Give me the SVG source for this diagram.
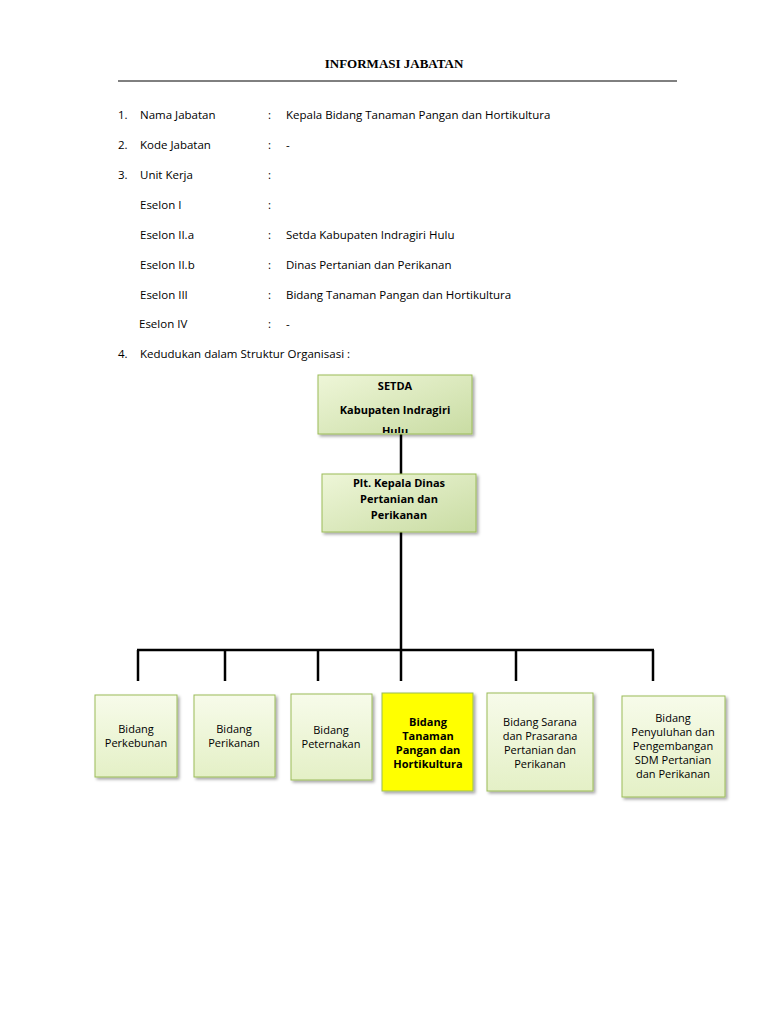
<svg xmlns="http://www.w3.org/2000/svg" width="768" height="1024" viewBox="0 0 768 1024">
<style>
.t{font-family:"Open Sans","Liberation Sans",sans-serif;font-size:11.5px;fill:#000}
.n{font-family:"Open Sans","Liberation Sans",sans-serif;font-size:11px;fill:#000;text-anchor:middle}
.b{font-weight:bold}
.box{stroke:#9bbb59;stroke-width:1;filter:url(#sh)}
.ln{stroke:#000;stroke-width:2.5;fill:none}
</style>
<defs>
<linearGradient id="g" x1="0" y1="0" x2="1" y2="1"><stop offset="0" stop-color="#eef6d8"/><stop offset="1" stop-color="#c9dca3"/></linearGradient>
<linearGradient id="g2" x1="0" y1="0" x2="0" y2="1"><stop offset="0" stop-color="#f7fbea"/><stop offset="1" stop-color="#e4f0c6"/></linearGradient>
<filter id="sh" x="-10%" y="-10%" width="130%" height="130%"><feDropShadow dx="2" dy="2" stdDeviation="1.5" flood-color="#000" flood-opacity="0.35"/></filter>
<clipPath id="c1"><rect x="318" y="375" width="154" height="58"/></clipPath>
</defs>
<rect width="768" height="1024" fill="#fff"/>
<text x="394" y="68" text-anchor="middle" font-family="Liberation Serif,serif" font-weight="bold" font-size="13">INFORMASI JABATAN</text>
<line x1="118" y1="81" x2="677" y2="81" stroke="#000" stroke-width="1"/>
<g class="t">
<text x="118" y="119">1.</text><text x="140" y="119">Nama Jabatan</text><text x="268" y="119">:</text><text x="286" y="119">Kepala Bidang Tanaman Pangan dan Hortikultura</text>
<text x="118" y="149">2.</text><text x="140" y="149">Kode Jabatan</text><text x="268" y="149">:</text><text x="286" y="149">-</text>
<text x="118" y="179">3.</text><text x="140" y="179">Unit Kerja</text><text x="268" y="179">:</text>
<text x="140" y="209">Eselon I</text><text x="268" y="209">:</text>
<text x="140" y="239">Eselon II.a</text><text x="268" y="239">:</text><text x="286" y="239">Setda Kabupaten Indragiri Hulu</text>
<text x="140" y="269">Eselon II.b</text><text x="268" y="269">:</text><text x="286" y="269">Dinas Pertanian dan Perikanan</text>
<text x="140" y="299">Eselon III</text><text x="268" y="299">:</text><text x="286" y="299">Bidang Tanaman Pangan dan Hortikultura</text>
<text x="139" y="328">Eselon IV</text><text x="268" y="328">:</text><text x="286" y="328">-</text>
<text x="118" y="358">4.</text><text x="140" y="358">Kedudukan dalam Struktur Organisasi :</text>
</g>
<g id="connectors">
<line class="ln" x1="401" y1="434" x2="401" y2="474"/>
<line class="ln" x1="401" y1="532" x2="401" y2="651"/>
<line class="ln" x1="137" y1="650" x2="654" y2="650"/>
<line class="ln" x1="138" y1="650" x2="138" y2="681"/>
<line class="ln" x1="225" y1="650" x2="225" y2="681"/>
<line class="ln" x1="318" y1="650" x2="318" y2="681"/>
<line class="ln" x1="401" y1="650" x2="401" y2="681"/>
<line class="ln" x1="516" y1="650" x2="516" y2="681"/>
<line class="ln" x1="653" y1="650" x2="653" y2="681"/>
</g>
<g id="setda">
<rect class="box" x="318" y="375" width="154" height="59" fill="url(#g)"/>
<g clip-path="url(#c1)"><text class="n b" x="395" y="390">SETDA</text><text class="n b" x="395" y="414">Kabupaten Indragiri</text><text class="n b" x="395" y="435">Hulu</text></g>
</g>
<g id="kadis">
<rect class="box" x="322" y="474" width="154" height="58" fill="url(#g)"/>
<text class="n b" x="399" y="487">Plt. Kepala Dinas</text><text class="n b" x="399" y="503">Pertanian dan</text><text class="n b" x="399" y="519">Perikanan</text>
</g>
<g id="perkebunan"><rect class="box" x="95" y="695" width="82" height="82" fill="url(#g2)"/><text class="n" x="136" y="733">Bidang</text><text class="n" x="136" y="747">Perkebunan</text></g>
<g id="perikanan"><rect class="box" x="194" y="695" width="81" height="82" fill="url(#g2)"/><text class="n" x="234" y="733">Bidang</text><text class="n" x="234" y="747">Perikanan</text></g>
<g id="peternakan"><rect class="box" x="291" y="694" width="81" height="86" fill="url(#g2)"/><text class="n" x="331" y="734">Bidang</text><text class="n" x="331" y="748">Peternakan</text></g>
<g id="tph"><rect class="box" x="382" y="693" width="91" height="98" fill="#ffff00"/><text class="n b" x="428" y="726">Bidang</text><text class="n b" x="428" y="740">Tanaman</text><text class="n b" x="428" y="754">Pangan dan</text><text class="n b" x="428" y="768">Hortikultura</text></g>
<g id="sarana"><rect class="box" x="487" y="693" width="106" height="98" fill="url(#g2)"/><text class="n" x="540" y="726">Bidang Sarana</text><text class="n" x="540" y="740">dan Prasarana</text><text class="n" x="540" y="754">Pertanian dan</text><text class="n" x="540" y="768">Perikanan</text></g>
<g id="penyuluhan"><rect class="box" x="622" y="696" width="103" height="101" fill="url(#g2)"/><text class="n" x="673" y="722">Bidang</text><text class="n" x="673" y="736">Penyuluhan dan</text><text class="n" x="673" y="750">Pengembangan</text><text class="n" x="673" y="764">SDM Pertanian</text><text class="n" x="673" y="778">dan Perikanan</text></g>
</svg>
